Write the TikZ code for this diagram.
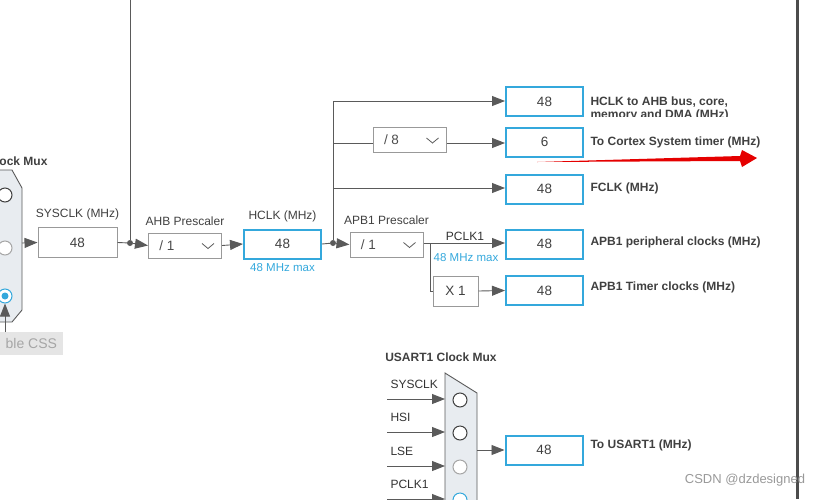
\documentclass[tikz,border=0pt]{standalone}
\usepackage{fontspec}
\setmainfont{Liberation Sans}
\usetikzlibrary{arrows.meta,positioning}
\definecolor{stblue}{RGB}{52,168,220}
\definecolor{wire}{RGB}{90,90,90}
\definecolor{muxgray}{RGB}{232,236,240}
\tikzset{
  wire/.style={draw=wire,line width=0.9pt},
  arr/.style={wire,-{Triangle[length=13pt,width=10pt]}},
  valbox/.style={draw=gray!80,line width=1pt,minimum width=79pt,minimum height=30pt,font=\fontsize{13.5}{15}\selectfont,text=black!75},
  outbox/.style={draw=stblue,line width=2pt,minimum width=77pt,minimum height=29pt,font=\fontsize{13.5}{15}\selectfont,text=black!75},
  presc/.style={draw=gray!80,line width=1pt,minimum width=73pt,minimum height=25pt,font=\fontsize{13.5}{15}\selectfont,text=black!70},
  lbl/.style={font=\fontsize{12}{13}\selectfont,text=black!75},
  outlbl/.style={font=\bfseries\fontsize{12}{13}\selectfont,text=black!75,anchor=west},
  maxlbl/.style={font=\fontsize{11.5}{13}\selectfont,text=stblue},
  dot/.style={circle,fill=wire,inner sep=0pt,minimum size=6pt},
  radio/.style={circle,draw=black!75,line width=1pt,fill=white,minimum size=14pt,inner sep=0pt},
}
\newcommand{\chev}[1]{\draw[wire,line width=0.8pt] ([xshift=-20pt,yshift=2pt]#1.east) -- ++(6pt,-5pt) -- ++(6pt,5pt);}
\begin{document}
\begin{tikzpicture}[x=1pt,y=-1pt]
\useasboundingbox (0,0) rectangle (830,499);

% system clock mux (cut at the left edge)
\fill[muxgray] (0,170) -- (12,170) -- (22,188) -- (22,310) -- (12,322) -- (0,322) -- cycle;
\draw[wire] (0,170) -- (12,170) -- (22,188) -- (22,310) -- (12,322) -- (0,322);
\node[radio] (r1) at (5,195) {};
\node[radio,draw=gray!70] (r2) at (5,248) {};
\node[radio,draw=stblue] (r3) at (5,296) {};
\fill[stblue] (r3) circle (3.5pt);
\node[font=\bfseries\fontsize{12}{13}\selectfont,text=black!75,anchor=east] (muxlbl) at (51,161) {ock Mux};
\node[fill=gray!20,anchor=north east,minimum width=63pt,minimum height=23pt,font=\fontsize{14}{15}\selectfont,text=gray!70] (css) at (63,332) {ble CSS};
\draw[arr] (css.north -| r3) ++(0,0) coordinate (cssin) -- (r3.south);

% main chain
\node[valbox] (sys) at (77.5,242.5) {48};
\node[lbl,above=3pt of sys] (syslbl) {SYSCLK (MHz)};
\coordinate (muxout) at (22,243);
\draw[arr] (muxout) -- (sys.west);
\node[dot] (j1) at (130,243) {};
\coordinate (top1) at (130,0);
\draw[wire] (j1) -- (top1);
\node[presc] (ahb) at (185,245.5) {/ 1\hspace*{36pt}};
\chev{ahb}
\node[lbl,above=3pt of ahb] (ahblbl) {AHB Prescaler};
\node[outbox] (hclk) at (282.5,244) {48};
\node[lbl,above=3pt of hclk] (hclklbl) {HCLK (MHz)};
\node[maxlbl,below=0pt of hclk] (hclkmax) {48 MHz max};
\draw[wire] (sys.east) -- (j1);
\draw[arr] (j1) -- (ahb.west);
\draw[arr] (ahb.east) -- (hclk.west);
\node[dot] (j2) at (333,243) {};
\node[presc] (apb) at (386.5,244.5) {/ 1\hspace*{36pt}};
\chev{apb}
\node[lbl,above=3pt of apb] (apblbl) {APB1 Prescaler};
\draw[wire] (hclk.east) -- (j2);
\draw[arr] (j2) -- (apb.west);

% outputs
\node[outbox] (o1) at (544.5,101.5) {48};
\node[outbox] (o2) at (544.5,142) {6};
\node[outbox] (o3) at (544.5,189) {48};
\node[outbox] (o4) at (544.5,244) {48};
\node[outbox] (o5) at (544.5,290.5) {48};
\node[presc] (div8) at (409.5,140) {/ 8\hspace*{36pt}};
\chev{div8}
\node[valbox,minimum width=45pt] (x1) at (455.5,291) {X 1};
\coordinate (b1) at (333,101);
\coordinate (b2) at (333,143);
\coordinate (b3) at (333,188);
\draw[wire] (j2) -- (b1);
\draw[arr] (b1) -- (o1.west |- b1);
\draw[wire] (b2) -- (div8.west |- b2);
\draw[arr] (div8.east |- b2) -- (o2.west |- b2);
\draw[arr] (b3) -- (o3.west |- b3);
\coordinate (b4) at (430,243);
\draw[arr] (apb.east |- b4) -- (o4.west |- b4);
\draw[wire] (b4) |- (x1.west);
\draw[arr] (x1.east) -- (o5.west);
\node[font=\fontsize{12}{13}\selectfont,text=black!80] (pclk) at (465,236) {PCLK1};
\node[maxlbl] (pclkmax) at (466,258) {48 MHz max};

\begin{scope}
\clip (586,85) rectangle (800,116);
\node[outlbl,align=left] (l1) at (587,109) {HCLK to AHB bus, core,\\memory and DMA (MHz)};
\end{scope}
\node[outlbl] (l2) at (587,142) {To Cortex System timer (MHz)};
\node[outlbl] (l3) at (587,188) {FCLK (MHz)};
\node[outlbl] (l4) at (587,242) {APB1 peripheral clocks (MHz)};
\node[outlbl] (l5) at (587,287) {APB1 Timer clocks (MHz)};

% red marker
\coordinate (rs) at (537,162);
\coordinate (re) at (757,158);
\fill[red!90!black] (rs) -- (740,156) -- (742,150) -- (re) -- (742,167) -- (740,161) -- cycle;

% right border
\draw[black!70,line width=3pt] (797,0) -- (797,499);

% USART1 mux
\node[font=\bfseries\fontsize{12}{13}\selectfont,text=black!75] (ulbl) at (441,357) {USART1 Clock Mux};
\fill[muxgray] (445,373) -- (477,393) -- (477,500) -- (445,500) -- cycle;
\draw[wire] (445,500) -- (445,373) -- (477,393) -- (477,500);
\node[radio] (u1) at (460,400) {};
\node[radio] (u2) at (460,433) {};
\node[radio,draw=gray!70] (u3) at (460,467) {};
\node[radio,draw=stblue] (u4) at (460,500) {};
\foreach \n/\t/\y in {s/SYSCLK/399,h/HSI/432,l/LSE/466,p/PCLK1/499}{
  \coordinate (in\n) at (387,\y);
  \draw[arr] (in\n) -- (445,\y);
  \node[font=\fontsize{12}{13}\selectfont,text=black!80,anchor=west] (t\n) at (387,\y-15) {\t};
}
\node[outbox] (uo) at (544,450) {48};
\coordinate (umux) at (477,450);
\draw[arr] (umux) -- (uo.west);
\node[outlbl] (ul) at (587,445) {To USART1 (MHz)};

\node[font=\fontsize{13}{14}\selectfont,text=gray!80] (wm) at (745,480) {CSDN @dzdesigned};
\end{tikzpicture}
\end{document}
